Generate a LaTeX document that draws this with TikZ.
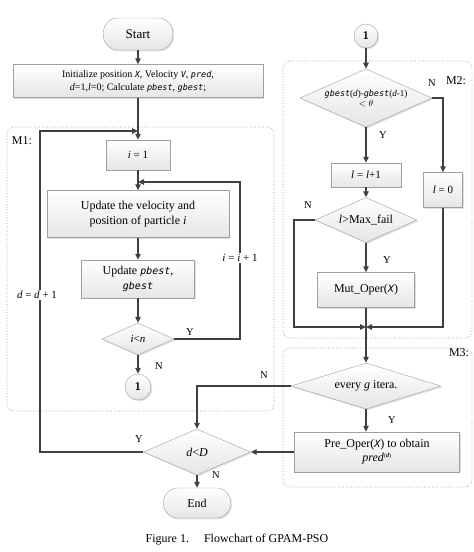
\documentclass[tikz,border=0pt]{standalone}
\usepackage{fontspec}
\setmainfont{Liberation Serif}
\newfontfamily\vfam{DejaVu Sans Mono}
\newcommand{\vv}[1]{{\vfam\itshape\fontsize{8.5}{10}\selectfont #1}}
\usetikzlibrary{shapes.geometric,shadows,arrows.meta}
\definecolor{ln}{HTML}{404040}
\begin{document}
\begin{tikzpicture}[x=1pt,y=-1pt,
  fl/.style={draw=gray!75, top color=white, bottom color=gray!20,
    drop shadow={shadow xshift=1.3pt,shadow yshift=-1.3pt,opacity=0.25},
    align=center, inner sep=0pt, font=\fontsize{11}{13}\selectfont},
  box/.style={fl, rectangle},
  dec/.style={fl, diamond, aspect=2},
  term/.style={fl, rectangle, rounded corners=14pt},
  conn/.style={fl, circle, minimum size=26pt, font=\bfseries\sffamily\fontsize{11}{13}\selectfont},
  grp/.style={draw=gray!85, dotted, rounded corners=7pt, line width=0.7pt},
  arr/.style={draw=ln, line width=1.3pt, -{Triangle[length=6pt,width=5.5pt]}},
  ln/.style={draw=ln, line width=1.3pt},
  lbl/.style={font=\fontsize{10.5}{12}\selectfont, inner sep=1pt},
  wl/.style={lbl, fill=white, font=\fontsize{11}{13}\selectfont}
]
\useasboundingbox (0,0) rectangle (474,552);
% groups
\draw[grp] (7,127) rectangle (274,411);
\draw[grp] (283,61) rectangle (472,338);
\draw[grp] (283,348) rectangle (472,487);
\node[font=\fontsize{12}{14}\selectfont] (m1) at (22,141) {M1:};
\node[font=\fontsize{12}{14}\selectfont] (m2) at (456,81) {M2:};
\node[font=\fontsize{12}{14}\selectfont] (m3) at (459,353) {M3:};
% left column
\node[term, minimum width=69pt, minimum height=32pt, font=\fontsize{13}{15}\selectfont] (start) at (138,34) {Start};
\node[box, minimum width=250pt, minimum height=33pt, font=\fontsize{10}{13}\selectfont] (init) at (138,81)
  {Initialize position \vv{X}, Velocity \vv{V}, \vv{pred},\\ \textit{d}=1,\textit{l}=0; Calculate \vv{pbest}, \vv{gbest};};
\node[box, minimum width=64pt, minimum height=30pt] (i1) at (138,155) {\textit{i} = 1};
\node[box, minimum width=182pt, minimum height=47pt, font=\fontsize{12}{15}\selectfont] (upd) at (138,214)
  {Update the velocity and\\ position of particle \textit{i}};
\node[box, minimum width=113pt, minimum height=38pt, font=\fontsize{12}{15}\selectfont] (pb) at (138,279)
  {Update \vv{\fontsize{10}{12}\selectfont pbest},\\ \vv{\fontsize{10}{12}\selectfont gbest}};
\node[dec, minimum width=72pt, minimum height=32pt] (in) at (138,339) {\textit{i}<\textit{n}};
\node[conn] (c1) at (138,387) {1};
\node[dec, minimum width=107pt, minimum height=46pt, font=\fontsize{12}{14}\selectfont] (dD) at (197,452) {\textit{d}<\textit{D}};
\node[term, minimum width=67pt, minimum height=30pt, font=\fontsize{12}{14}\selectfont] (end) at (197,503) {End};
% right column
\node[conn, minimum size=24pt] (c2) at (366,36) {1};
\node[dec, minimum width=132pt, minimum height=50pt, font=\fontsize{9}{11}\selectfont] (gd) at (366,98)
  {\vv{gbest}(\textit{d})-\vv{gbest}(\textit{d}-1)\\[-1pt] $<\theta$};
\node[box, minimum width=70pt, minimum height=24pt] (ll) at (366,175) {\textit{l} = \textit{l}+1};
\node[box, minimum width=39pt, minimum height=35pt] (l0) at (443,190) {\textit{l} = 0};
\node[dec, minimum width=102pt, minimum height=45pt, font=\fontsize{12}{14}\selectfont] (mf) at (366,220) {\textit{l}>Max\_fail};
\node[box, minimum width=97pt, minimum height=35pt, font=\fontsize{12}{14}\selectfont] (mut) at (366,290) {Mut\_Oper(\vv{\fontsize{10}{12}\selectfont X})};
\node[dec, minimum width=150pt, minimum height=46pt, font=\fontsize{12}{14}\selectfont] (eg) at (366,386) {every \textit{g} itera.};
\node[box, minimum width=165pt, minimum height=40pt, font=\fontsize{12}{14}\selectfont] (pre) at (377,452)
  {Pre\_Oper(\vv{\fontsize{10}{12}\selectfont X}) to obtain\\ \textit{pred}\textsuperscript{\fontsize{6}{7}\selectfont(\textbf{\textit{d}})}};
% coordinates
\coordinate (ja) at (138,131);
\coordinate (jb) at (138,182);
\coordinate (jc) at (366,327);
% connectors left
\draw[arr] (start) -- (init);
\draw[arr] (init) -- (i1);
\draw[arr] (i1) -- (upd);
\draw[arr] (upd) -- (pb);
\draw[arr] (pb) -- (in);
\draw[arr] (in) -- (c1);
\draw[arr] (in.east) -- (240,339) |- (jb);
\draw[arr] (dD.west) -| (40,131) -- (ja);
\draw[arr] (dD) -- (end);
\node[wl] (lii) at (240,258) {\textit{i} = \textit{i} + 1};
\node[wl] (ldd) at (37,295) {\textit{d} = \textit{d} + 1};
\node[lbl] (ly1) at (190,332) {Y};
\node[lbl] (ln1) at (159,366) {N};
\node[lbl] (ly2) at (139,439) {Y};
\node[lbl] (ln2) at (216,475) {N};
% connectors right
\draw[arr] (c2) -- (gd);
\draw[arr] (gd.east) -| (l0.north);
\draw[arr] (gd) -- (ll);
\draw[arr] (ll) -- (mf);
\draw[arr] (mf) -- (mut);
\draw[arr] (mf.west) -| (294,327) -- (jc);
\draw[arr] (l0.south) |- (jc);
\draw[arr] (mut.south) -- (eg.north);
\draw[arr] (eg.west) -| (dD.north);
\draw[arr] (eg.south) -- (eg.south |- pre.north);
\draw[arr] (pre) -- (dD.east);
\node[lbl] (ln3) at (432,83) {N};
\node[lbl] (ly3) at (383,135) {Y};
\node[lbl] (ln4) at (308,205) {N};
\node[lbl] (ly4) at (387,260) {Y};
\node[lbl] (ln5) at (264,375) {N};
\node[lbl] (ly5) at (392,420) {Y};
% caption
\node[font=\fontsize{12}{14}\selectfont] (cap) at (237,540) {Figure 1.\quad\ Flowchart of GPAM-PSO};
\end{tikzpicture}
\end{document}
